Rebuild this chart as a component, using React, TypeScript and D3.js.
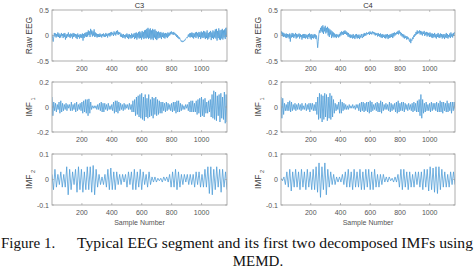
import React from "react";
import * as d3 from "d3";

const channels = ["C3", "C4"];
const xTicks = [200, 400, 600, 800, 1000];
const xMax = 1170;
const rowLabels = ["Raw EEG", "IMF", "IMF"];
const rowSubs = ["", "1", "2"];
const yDomains = [[-0.5, 0.5], [-0.2, 0.2], [-0.1, 0.1]];
const yTicks = [[-0.5, 0, 0.5], [-0.2, 0, 0.2], [-0.1, 0, 0.1]];
const yTickLabels = [["-0.5", "0", "0.5"], ["-0.2", "0", "0.2"], ["-0.1", "0", "0.1"]];

const rawC3 = [
  0.02, -0.06, -0.12, -0.03, 0.05, -0.02, 0.04, -0.04, 0.03, -0.02,
  0.06, -0.03, 0.04, -0.05, 0.02, -0.04, 0.05, -0.01, 0.03, -0.05,
  0.04, -0.03, 0.05, -0.08, 0.02, -0.05, 0.03, -0.02, 0.06, -0.03,
  0.02, -0.05, 0.04, -0.02, 0.03, -0.06, 0.05, -0.03, 0.04, -0.02,
  0.03, -0.05, 0.02, -0.07, 0.04, -0.03, 0.01, -0.06, 0.03, -0.04,
  0.02, -0.05, 0.04, -0.1, 0.03, -0.05, 0.05, -0.02, 0.06, -0.03,
  0.07, -0.02, 0.1, 0.01, 0.08, -0.03, 0.13, 0.02, 0.1, -0.02,
  0.08, 0.0, 0.12, -0.03, 0.06, -0.02, 0.04, -0.04, 0.03, -0.03,
  0.03, -0.03, 0.04, -0.02, 0.02, -0.04, 0.03, -0.01, 0.04, -0.03,
  0.02, -0.03, 0.05, -0.01, 0.03, -0.04, 0.04, 0.0, 0.05, -0.02,
  0.06, 0.0, 0.07, 0.02, 0.05, -0.01, 0.08, 0.02, 0.06, 0.0,
  0.09, 0.03, 0.1, 0.01, 0.07, 0.03, 0.06, -0.02, 0.04, -0.03,
  0.02, -0.05, 0.03, -0.04, 0.01, -0.06, 0.02, -0.03, 0.04, -0.05,
  0.02, -0.07, 0.03, -0.04, 0.01, -0.06, 0.04, -0.05, 0.02, -0.03,
  0.04, -0.07, 0.05, -0.05, 0.06, -0.08, 0.04, -0.04, 0.07, -0.06,
  0.08, -0.05, 0.06, -0.08, 0.09, -0.04, 0.07, -0.07, 0.1, -0.05,
  0.11, -0.06, 0.13, -0.04, 0.15, -0.07, 0.12, -0.05, 0.14, -0.08,
  0.1, -0.06, 0.13, -0.09, 0.11, -0.04, 0.12, -0.07, 0.09, -0.09,
  0.07, -0.06, 0.08, -0.05, 0.06, -0.04, 0.07, -0.07, 0.05, -0.03,
  0.06, -0.05, 0.04, -0.06, 0.05, -0.03, 0.04, -0.05, 0.06, -0.02,
  0.05, 0.0, 0.07, 0.02, 0.08, 0.03, 0.06, 0.01, 0.07, 0.02,
  0.05, 0.0, 0.03, -0.03, 0.01, -0.05, -0.02, -0.07, -0.04, -0.08,
  -0.09, -0.12, -0.1, -0.13, -0.11, -0.12, -0.09, -0.1, -0.07, -0.06,
  -0.04, -0.05, -0.02, 0.02, -0.03, 0.04, -0.04, 0.05, -0.03, 0.06,
  -0.04, 0.05, -0.06, 0.04, -0.03, 0.06, -0.05, 0.07, -0.02, 0.05,
  -0.06, 0.07, -0.03, 0.06, -0.07, 0.08, -0.04, 0.06, -0.05, 0.09,
  -0.04, 0.08, -0.07, 0.06, -0.05, 0.1, -0.08, 0.05, -0.06, 0.07,
  -0.03, 0.09, -0.09, 0.06, -0.05, 0.1, -0.07, 0.08, -0.04, 0.12,
  -0.06, 0.13, -0.1, 0.09, -0.05, 0.14, -0.08, 0.1, -0.09, 0.11,
  -0.06, 0.13, -0.08, 0.1, -0.04, 0.12, -0.07, 0.15, -0.03, 0.16,
];

const rawC4 = [
  0.02, 0.08, -0.01, 0.06, -0.03, 0.05, -0.02, 0.03, -0.04, 0.04,
  -0.05, 0.03, -0.03, 0.02, -0.06, 0.04, -0.12, 0.02, -0.04, 0.05,
  -0.03, 0.04, -0.05, 0.02, -0.02, 0.05, -0.06, 0.03, -0.04, 0.02,
  -0.02, 0.04, -0.06, 0.03, -0.03, 0.01, -0.08, 0.02, -0.05, 0.03,
  -0.05, 0.03, -0.06, 0.02, -0.04, 0.01, -0.07, 0.03, -0.03, 0.04,
  -0.06, 0.02, -0.08, 0.03, -0.05, 0.01, -0.06, 0.03, -0.04, 0.02,
  -0.07, 0.0, -0.1, -0.24, -0.12, 0.02, 0.1, 0.05, 0.15, 0.08,
  0.18, 0.06, 0.2, 0.03, 0.16, 0.08, 0.19, 0.04, 0.15, 0.06,
  0.17, 0.0, 0.14, -0.03, 0.12, 0.02, 0.1, -0.05, 0.08, -0.02,
  0.06, -0.04, 0.04, -0.03, 0.02, -0.05, 0.03, -0.02, 0.01, -0.04,
  0.03, -0.02, 0.06, 0.0, 0.08, 0.02, 0.07, 0.01, 0.09, 0.03,
  0.1, 0.03, 0.08, 0.01, 0.06, -0.02, 0.05, -0.03, 0.02, -0.05,
  0.02, -0.04, 0.01, -0.06, 0.03, -0.05, 0.0, -0.07, 0.02, -0.04,
  0.03, -0.06, 0.01, -0.05, 0.02, -0.07, 0.0, -0.04, 0.03, -0.03,
  -0.05, 0.03, -0.03, 0.05, -0.01, 0.04, 0.0, 0.06, 0.02, 0.05,
  0.03, 0.07, 0.01, 0.08, 0.03, 0.06, 0.02, 0.08, 0.04, 0.07,
  0.02, 0.06, 0.0, 0.05, 0.01, 0.04, -0.02, 0.05, -0.01, 0.03,
  -0.03, 0.04, -0.04, 0.02, -0.05, 0.03, -0.03, 0.01, -0.05, 0.02,
  -0.06, 0.02, -0.04, 0.03, -0.07, 0.01, -0.05, 0.02, -0.04, 0.03,
  -0.03, 0.04, -0.05, 0.05, -0.02, 0.06, 0.0, 0.05, 0.02, 0.07,
  0.03, 0.09, 0.02, 0.1, 0.04, 0.07, 0.0, 0.05, -0.02, 0.03,
  -0.04, 0.02, -0.06, 0.0, -0.05, -0.01, -0.08, -0.02, -0.07, -0.04,
  -0.09, -0.12, -0.06, -0.15, -0.08, -0.1, -0.04, -0.07, 0.0, -0.03,
  0.03, 0.0, 0.07, 0.02, 0.1, 0.03, 0.08, 0.05, 0.1, 0.02,
  0.09, 0.02, 0.08, 0.0, 0.07, 0.03, 0.09, -0.01, 0.06, 0.01,
  0.07, -0.02, 0.06, 0.0, 0.05, -0.03, 0.06, -0.02, 0.04, -0.04,
  0.04, -0.05, 0.03, -0.03, 0.05, -0.04, 0.02, -0.06, 0.03, -0.03,
  0.05, -0.04, 0.02, -0.05, 0.04, -0.03, 0.03, -0.06, 0.02, -0.04,
  0.03, -0.07, 0.02, -0.04, 0.05, -0.05, 0.03, -0.06, 0.01, -0.03,
  0.04, -0.05, 0.06, -0.02, 0.03, -0.04, 0.05, -0.01, 0.06, 0.04,
];

const imf1C3 = [
  0.08, -0.07, 0.04, -0.03, 0.03, -0.04, 0.02, -0.02, 0.04, -0.05, 0.05, -0.04, 0.03, -0.03, 0.02, -0.02, 0.03, -0.03, 0.02, -0.01,
  0.02, -0.03, 0.04, -0.03, 0.02, -0.02, 0.03, -0.04, 0.04, -0.03, 0.02, -0.02, 0.03, -0.03, 0.04, -0.05, 0.05, -0.04, 0.06, -0.05,
  0.06, -0.07, 0.065, -0.05, 0.04, -0.02, 0.01, -0.01, 0.01, -0.01, 0.01, -0.02, 0.02, -0.02, 0.03, -0.03, 0.04, -0.04, 0.03, -0.04,
  0.03, -0.02, 0.02, -0.03, 0.03, -0.02, 0.01, -0.02, 0.02, -0.03, 0.04, -0.05, 0.05, -0.04, 0.05, -0.05, 0.04, -0.03, 0.03, -0.02,
  0.02, -0.03, 0.03, -0.02, 0.02, -0.01, 0.02, -0.02, 0.03, -0.02, 0.02, -0.04, 0.05, -0.04, 0.06, -0.07, 0.08, -0.06, 0.09, -0.08,
  0.1, -0.09, 0.11, -0.1, 0.08, -0.11, 0.1, -0.08, 0.07, -0.09, 0.1, -0.08, 0.06, -0.07, 0.08, -0.09, 0.07, -0.06, 0.08, -0.07,
  0.06, -0.06, 0.05, -0.05, 0.04, -0.05, 0.04, -0.03, 0.03, -0.04, 0.04, -0.03, 0.03, -0.02, 0.02, -0.03, 0.03, -0.04, 0.04, -0.03,
  0.04, -0.05, 0.05, -0.04, 0.05, -0.04, 0.03, -0.03, 0.02, -0.02, 0.01, -0.02, 0.02, -0.01, 0.02, -0.03, 0.04, -0.04, 0.05, -0.04,
  0.05, -0.04, 0.03, -0.04, 0.05, -0.06, 0.06, -0.05, 0.07, -0.08, 0.08, -0.07, 0.06, -0.08, 0.07, -0.05, 0.04, -0.05, 0.05, -0.04,
  0.06, -0.08, 0.1, -0.09, 0.13, -0.1, 0.12, -0.11, 0.09, -0.07, 0.1, -0.12, 0.11, -0.09, 0.08, -0.1, 0.12, -0.13, 0.1, -0.12,
];

const imf1C4 = [
  0.08, -0.09, 0.07, -0.06, 0.03, -0.03, 0.02, -0.03, 0.04, -0.03, 0.05, -0.04, 0.04, -0.03, 0.02, -0.02, 0.03, -0.03, 0.02, -0.02,
  0.03, -0.02, 0.02, -0.03, 0.03, -0.02, 0.01, -0.02, 0.03, -0.03, 0.02, -0.02, 0.03, -0.04, 0.03, -0.02, 0.03, -0.03, 0.02, -0.03,
  0.04, -0.06, 0.08, -0.1, 0.11, -0.09, 0.1, -0.12, 0.09, -0.1, 0.11, -0.08, 0.1, -0.11, 0.08, -0.09, 0.11, -0.1, 0.09, -0.08,
  0.06, -0.05, 0.03, -0.03, 0.02, -0.02, 0.04, -0.05, 0.06, -0.05, 0.04, -0.03, 0.03, -0.02, 0.02, -0.02, 0.01, -0.02, 0.02, -0.01,
  0.01, -0.01, 0.02, -0.01, 0.01, -0.02, 0.02, -0.01, 0.02, -0.03, 0.03, -0.04, 0.04, -0.03, 0.04, -0.04, 0.03, -0.03, 0.04, -0.04,
  0.04, -0.05, 0.05, -0.04, 0.04, -0.03, 0.02, -0.02, 0.03, -0.03, 0.04, -0.04, 0.03, -0.04, 0.05, -0.05, 0.04, -0.03, 0.02, -0.02,
  0.03, -0.02, 0.02, -0.03, 0.04, -0.04, 0.03, -0.03, 0.02, -0.02, 0.03, -0.04, 0.04, -0.05, 0.05, -0.04, 0.03, -0.03, 0.04, -0.03,
  0.04, -0.04, 0.03, -0.02, 0.02, -0.03, 0.03, -0.02, 0.02, -0.03, 0.03, -0.04, 0.04, -0.03, 0.03, -0.04, 0.05, -0.04, 0.06, -0.07,
  0.1, -0.09, 0.06, -0.05, 0.03, -0.04, 0.04, -0.03, 0.02, -0.03, 0.03, -0.04, 0.04, -0.03, 0.03, -0.02, 0.03, -0.03, 0.04, -0.04,
  0.03, -0.04, 0.05, -0.04, 0.04, -0.05, 0.04, -0.03, 0.03, -0.04, 0.05, -0.04, 0.03, -0.03, 0.04, -0.05, 0.04, -0.03, 0.04, -0.02,
];

const imf2C3 = [
  0.02, -0.04, 0.04, -0.03, 0.02, -0.02, 0.03, -0.03, 0.02, -0.03, 0.05, -0.06,
  0.04, -0.04, 0.03, -0.02, 0.04, -0.05, 0.05, -0.04, 0.04, -0.05, 0.03, -0.04,
  0.05, -0.04, 0.05, -0.05, 0.055, -0.06, 0.04, -0.03, 0.02, -0.02, 0.01, -0.02,
  0.02, -0.03, 0.04, -0.04, 0.045, -0.04, 0.03, -0.04, 0.03, -0.02, 0.02, -0.02,
  0.02, -0.01, 0.02, -0.03, 0.03, -0.02, 0.03, -0.04, 0.04, -0.04, 0.03, -0.03,
  0.04, -0.04, 0.03, -0.02, 0.02, -0.03, 0.03, -0.02, 0.01, -0.01, 0.01, -0.01,
  0.005, -0.005, 0.005, -0.01, 0.01, -0.005, 0.01, -0.01, 0.02, -0.03, 0.03, -0.03,
  0.04, -0.04, 0.03, -0.03, 0.02, -0.02, 0.02, -0.01, 0.02, -0.02, 0.02, -0.02,
  0.02, -0.03, 0.03, -0.02, 0.03, -0.03, 0.02, -0.03, 0.04, -0.03, 0.05, -0.055,
  0.05, -0.06, 0.04, -0.04, 0.05, -0.03, 0.04, -0.05, 0.04, -0.03, 0.03, -0.04,
];

const imf2C4 = [
  0.005, -0.005, 0.01, -0.02, 0.03, -0.03, 0.04, -0.045, 0.03, -0.03, 0.04, -0.03,
  0.03, -0.04, 0.04, -0.03, 0.03, -0.04, 0.04, -0.03, 0.03, -0.04, 0.04, -0.04,
  0.05, -0.05, 0.065, -0.07, 0.05, -0.04, 0.065, -0.06, 0.04, -0.03, 0.03, -0.02,
  0.02, -0.02, 0.01, -0.01, 0.01, -0.01, 0.02, -0.02, 0.03, -0.03, 0.04, -0.03,
  0.03, -0.04, 0.04, -0.03, 0.03, -0.03, 0.04, -0.04, 0.03, -0.04, 0.04, -0.03,
  0.04, -0.04, 0.03, -0.04, 0.04, -0.03, 0.02, -0.03, 0.02, -0.02, 0.02, -0.01,
  0.01, -0.01, 0.01, -0.005, 0.005, -0.01, 0.01, -0.01, 0.02, -0.03, 0.04, -0.04,
  0.04, -0.03, 0.03, -0.04, 0.03, -0.03, 0.02, -0.03, 0.03, -0.02, 0.03, -0.03,
  0.03, -0.04, 0.04, -0.03, 0.04, -0.045, 0.05, -0.04, 0.045, -0.05, 0.05, -0.055,
  0.05, -0.04, 0.04, -0.03, 0.03, -0.03, 0.02, -0.03, 0.03, -0.02, 0.03, -0.02,
];

const seriesGrid = [
  [rawC3, rawC4],
  [imf1C3, imf1C4],
  [imf2C3, imf2C4],
];

const W = 474;
const H = 269;
const colX = [[52, 227], [281, 455]];
const rowY = [[10, 61], [82, 132], [154, 205]];
const lineColor = "#4a9ad6";
const axisColor = "#9a9a9a";
const tickText = "#555";
const sans = "Arial, 'Liberation Sans', sans-serif";

function Panel({ r, c }: { r: number; c: number }) {
  const [x0, x1] = colX[c];
  const [y0, y1] = rowY[r];
  const x = d3.scaleLinear().domain([0, xMax]).range([x0, x1]);
  const y = d3.scaleLinear().domain(yDomains[r]).range([y1, y0]);
  const data = seriesGrid[r][c];
  const n = data.length;
  const line = d3
    .line<number>()
    .x((_, i) => x((i * xMax) / (n - 1)))
    .y((v) => y(v));
  const clipId = `clip-${r}-${c}`;
  return (
    <g>
      <defs>
        <clipPath id={clipId}>
          <rect x={x0} y={y0} width={x1 - x0} height={y1 - y0} />
        </clipPath>
      </defs>
      <rect x={x0} y={y0} width={x1 - x0} height={y1 - y0} fill="#fff" />
      <path
        d={line(data) || ""}
        fill="none"
        stroke={lineColor}
        strokeWidth={0.75}
        strokeLinejoin="round"
        clipPath={`url(#${clipId})`}
      />
      <rect x={x0} y={y0} width={x1 - x0} height={y1 - y0} fill="none" stroke={axisColor} strokeWidth={0.8} />
      {xTicks.map((t) => (
        <g key={t}>
          <line x1={x(t)} x2={x(t)} y1={y1} y2={y1 - 2} stroke={axisColor} strokeWidth={0.6} />
          <line x1={x(t)} x2={x(t)} y1={y0} y2={y0 + 2} stroke={axisColor} strokeWidth={0.6} />
          <text x={x(t)} y={y1 + 10} textAnchor="middle" fontSize={7} fill={tickText} fontFamily={sans}>
            {t}
          </text>
        </g>
      ))}
      {yTicks[r].map((t, i) => (
        <g key={t}>
          <line x1={x0} x2={x0 + 2} y1={y(t)} y2={y(t)} stroke={axisColor} strokeWidth={0.6} />
          <line x1={x1} x2={x1 - 2} y1={y(t)} y2={y(t)} stroke={axisColor} strokeWidth={0.6} />
          <text x={x0 - 3} y={y(t) + 2.5} textAnchor="end" fontSize={7} fill={tickText} fontFamily={sans}>
            {yTickLabels[r][i]}
          </text>
        </g>
      ))}
      <text
        transform={`translate(${x0 - 20},${(y0 + y1) / 2}) rotate(-90)`}
        textAnchor="middle"
        fontSize={8.5}
        fill="#444"
        fontFamily={sans}
      >
        {rowLabels[r]}
        {rowSubs[r] && (
          <tspan fontSize={5.5} dx={1.5} dy={2.5}>
            {rowSubs[r]}
          </tspan>
        )}
      </text>
      {r === 0 && (
        <text x={(x0 + x1) / 2} y={7.5} textAnchor="middle" fontSize={7.5} fill="#333" fontFamily={sans}>
          {channels[c]}
        </text>
      )}
      {r === 2 && (
        <text x={(x0 + x1) / 2} y={225} textAnchor="middle" fontSize={7} fill={tickText} fontFamily={sans}>
          Sample Number
        </text>
      )}
    </g>
  );
}

export default function App() {
  return (
    <div style={{ position: "fixed", left: 0, top: 0 }}>
      <svg width={W} height={H} style={{ display: "block", background: "#fff" }}>
        {[0, 1, 2].map((r) => [0, 1].map((c) => <Panel key={`${r}-${c}`} r={r} c={c} />))}
        <text x={1} y={248} fontSize={15} fontFamily="'Liberation Serif', 'Times New Roman', serif" fill="#111">
          Figure 1.
        </text>
        <text
          x={77}
          y={248}
          fontSize={15}
          fontFamily="'Liberation Serif', 'Times New Roman', serif"
          fill="#111"
          textLength={396}
          lengthAdjust="spacingAndGlyphs"
        >
          Typical EEG segment and its first two decomposed IMFs using
        </text>
        <text x={258} y={266} textAnchor="middle" fontSize={15} fontFamily="'Liberation Serif', 'Times New Roman', serif" fill="#111">
          MEMD.
        </text>
      </svg>
    </div>
  );
}
